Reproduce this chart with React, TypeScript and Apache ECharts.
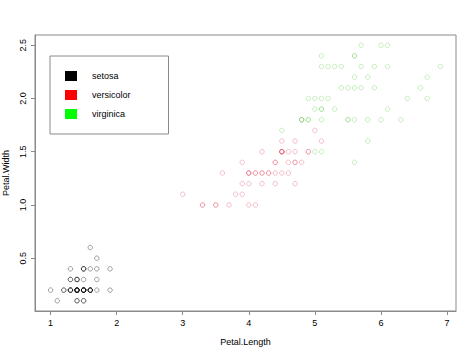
import React, { useEffect, useRef } from "react";
import * as echarts from "echarts";

const speciesNames = ["setosa", "versicolor", "virginica"];

const setosaLength = [1.4,1.4,1.3,1.5,1.4,1.7,1.4,1.5,1.4,1.5,1.5,1.6,1.4,1.1,1.2,1.5,1.3,1.4,1.7,1.5,1.7,1.5,1.0,1.7,1.9,1.6,1.6,1.5,1.4,1.6,1.6,1.5,1.5,1.4,1.5,1.2,1.3,1.4,1.3,1.5,1.3,1.3,1.3,1.6,1.9,1.4,1.6,1.4,1.5,1.4];
const setosaWidth = [0.2,0.2,0.2,0.2,0.2,0.4,0.3,0.2,0.2,0.1,0.2,0.2,0.1,0.1,0.2,0.4,0.4,0.3,0.3,0.3,0.2,0.4,0.2,0.5,0.2,0.2,0.4,0.2,0.2,0.2,0.2,0.4,0.1,0.2,0.2,0.2,0.2,0.1,0.2,0.2,0.3,0.3,0.2,0.6,0.4,0.3,0.2,0.2,0.2,0.2];

const versicolorLength = [4.7,4.5,4.9,4.0,4.6,4.5,4.7,3.3,4.6,3.9,3.5,4.2,4.0,4.7,3.6,4.4,4.5,4.1,4.5,3.9,4.8,4.0,4.9,4.7,4.3,4.4,4.8,5.0,4.5,3.5,3.8,3.7,3.9,5.1,4.5,4.5,4.7,4.4,4.1,4.0,4.4,4.6,4.0,3.3,4.2,4.2,4.2,4.3,3.0,4.1];
const versicolorWidth = [1.4,1.5,1.5,1.3,1.5,1.3,1.6,1.0,1.3,1.4,1.0,1.5,1.0,1.4,1.3,1.4,1.5,1.0,1.5,1.1,1.8,1.3,1.5,1.2,1.3,1.4,1.4,1.7,1.5,1.0,1.1,1.0,1.2,1.6,1.5,1.6,1.5,1.3,1.3,1.3,1.2,1.4,1.2,1.0,1.3,1.2,1.3,1.3,1.1,1.3];

const virginicaLength = [6.0,5.1,5.9,5.6,5.8,6.6,4.5,6.3,5.8,6.1,5.1,5.3,5.5,5.0,5.1,5.3,5.5,6.7,6.9,5.0,5.7,4.9,6.7,4.9,5.7,6.0,4.8,4.9,5.6,5.8,6.1,6.4,5.6,5.1,5.6,6.1,5.6,5.5,4.8,5.4,5.6,5.1,5.1,5.9,5.7,5.2,5.0,5.2,5.4,5.1];
const virginicaWidth = [2.5,1.9,2.1,1.8,2.2,2.1,1.7,1.8,1.8,2.5,2.0,1.9,2.1,2.0,2.4,2.3,1.8,2.2,2.3,1.5,2.3,2.0,2.0,1.8,2.1,1.8,1.8,1.8,2.1,1.6,1.9,2.0,2.2,1.5,1.4,2.3,2.4,1.8,1.8,2.1,2.4,2.3,1.9,2.3,2.5,2.3,1.9,2.0,2.3,1.8];

const xTicks = [1, 2, 3, 4, 5, 6, 7];
const yTicks = [0.5, 1.0, 1.5, 2.0, 2.5];

const pointColors = ["rgba(0,0,0,0.5)", "rgba(223,83,107,0.5)", "rgba(97,208,79,0.5)"];
const legendColors = ["#000000", "#FF0000", "#00FF00"];

const zip = (a: number[], b: number[]) => a.map((v, i) => [v, b[i]]);

export default function App() {
  const ref = useRef<HTMLDivElement>(null);
  useEffect(() => {
    document.body.style.margin = "0";
    const chart = echarts.init(ref.current!, null, { renderer: "svg" });
    const font = "Liberation Sans, Arial, sans-serif";
    const datasets = [
      zip(setosaLength, setosaWidth),
      zip(versicolorLength, versicolorWidth),
      zip(virginicaLength, virginicaWidth),
    ];
    chart.setOption({
      animation: false,
      backgroundColor: "#ffffff",
      grid: {
        left: 35,
        top: 35,
        right: 18,
        bottom: 44,
        containLabel: false,
        outerBoundsMode: "none",
        show: true,
        borderColor: "#8a8a8a",
        borderWidth: 1,
      },
      xAxis: {
        type: "value",
        min: 0.764,
        max: 7.136,
        name: "Petal.Length",
        nameLocation: "middle",
        nameGap: 26,
        nameTextStyle: { fontSize: 9, color: "#000", fontFamily: font },
        axisLine: { show: true, lineStyle: { color: "#8a8a8a" } },
        axisTick: { show: true, length: 4, lineStyle: { color: "#8a8a8a" }, customValues: xTicks },
        axisLabel: { fontSize: 9, color: "#000", fontFamily: font, margin: 7, customValues: xTicks, formatter: (v: number) => String(v) },
        splitLine: { show: false },
      },
      yAxis: {
        type: "value",
        min: 0.004,
        max: 2.596,
        name: "Petal.Width",
        nameLocation: "middle",
        nameGap: 22,
        nameTextStyle: { fontSize: 9, color: "#000", fontFamily: font },
        axisLine: { show: true, lineStyle: { color: "#8a8a8a" } },
        axisTick: { show: true, length: 4, lineStyle: { color: "#8a8a8a" }, customValues: yTicks },
        axisLabel: { fontSize: 9, color: "#000", fontFamily: font, margin: 8, rotate: 90, customValues: yTicks, formatter: (v: number) => v.toFixed(1) },
        splitLine: { show: false },
      },
      legend: {
        orient: "vertical",
        left: 50,
        top: 56,
        padding: [15, 38, 15, 15],
        itemWidth: 12,
        itemHeight: 10,
        itemGap: 9,
        borderColor: "#8a8a8a",
        borderWidth: 1,
        textStyle: { fontSize: 9, color: "#000", fontFamily: font, padding: [0, 0, 0, 10] },
        data: speciesNames.map((n, i) => ({
          name: n,
          icon: "rect",
          itemStyle: { color: legendColors[i], borderWidth: 0, opacity: 1 },
        })),
      },
      series: speciesNames.map((n, i) => ({
        name: n,
        type: "scatter",
        data: datasets[i],
        symbol: "circle",
        symbolSize: 4.5,
        itemStyle: { color: "rgba(0,0,0,0)", borderColor: pointColors[i], borderWidth: 0.9 },
      })),
    });
    return () => chart.dispose();
  }, []);
  return <div ref={ref} style={{ width: 474, height: 355 }} />;
}
